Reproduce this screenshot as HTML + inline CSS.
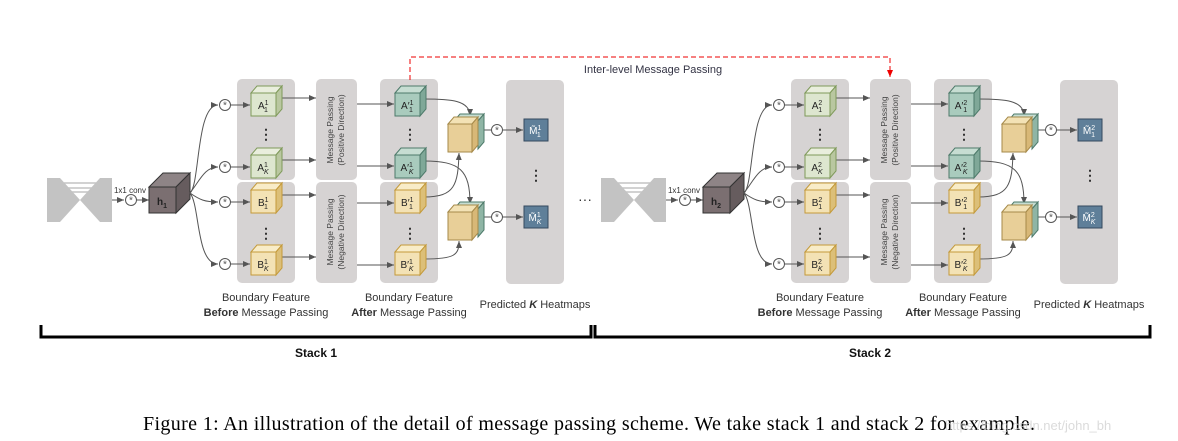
<!DOCTYPE html>
<html><head><meta charset="utf-8"><style>
html,body{margin:0;padding:0;background:#fff;width:1178px;height:441px;overflow:hidden}
svg text{font-family:"Liberation Sans",sans-serif}
</style></head><body>
<svg width="1178" height="441" viewBox="0 0 1178 441" xmlns="http://www.w3.org/2000/svg">
<defs>
<marker id="ar" markerWidth="8" markerHeight="8" refX="7" refY="4" orient="auto" markerUnits="userSpaceOnUse"><path d="M0,1 L7,4 L0,7 z" fill="#555"/></marker>
<marker id="arr" markerWidth="8" markerHeight="8" refX="7" refY="4" orient="auto" markerUnits="userSpaceOnUse"><path d="M0,1 L7,4 L0,7 z" fill="#e00"/></marker>
<g id="cA"><polygon points="0,0 6,-7 31,-7 25,0" fill="#e9eedd" stroke="#7f9a5a" stroke-width="1"/><polygon points="25,0 31,-7 31,16 25,23" fill="#b9c7a0" stroke="#7f9a5a"/><rect x="0" y="0" width="25" height="23" fill="#dde6cf" stroke="#7f9a5a"/></g>
<g id="cB"><polygon points="0,0 6,-7 31,-7 25,0" fill="#f8ecc8" stroke="#c49a3a"/><polygon points="25,0 31,-7 31,16 25,23" fill="#dcbf78" stroke="#c49a3a"/><rect x="0" y="0" width="25" height="23" fill="#f3e2b5" stroke="#c49a3a"/></g>
<g id="cP"><polygon points="0,0 6,-7 31,-7 25,0" fill="#c6ddd2" stroke="#4d7a6a"/><polygon points="25,0 31,-7 31,16 25,23" fill="#7fa898" stroke="#4d7a6a"/><rect x="0" y="0" width="25" height="23" fill="#a9cbbd" stroke="#4d7a6a"/></g>
<g id="cM"><polygon points="6,-3 12,-10 36,-10 30,-3" fill="#c6ddd2" stroke="#4d7a6a"/><polygon points="30,-3 36,-10 36,18 30,25" fill="#8fb5a5" stroke="#4d7a6a"/><polygon points="0,0 6,-7 30,-7 24,0" fill="#f3e2b5" stroke="#a68a4a"/><polygon points="24,0 30,-7 30,21 24,28" fill="#d8b877" stroke="#a68a4a"/><rect x="0" y="0" width="24" height="28" fill="#e8cf98" stroke="#a68a4a"/></g>
<g id="ci"><circle r="5.5" fill="#fff" stroke="#555" stroke-width="1"/><text x="0" y="3.5" font-size="10" text-anchor="middle" fill="#555">*</text></g>
<g id="stack">
  <rect x="47" y="178" width="65" height="44" fill="#c3c3c3"/>
  <polygon points="60,178 100,178 80,200" fill="#fff"/>
  <line x1="64" y1="183" x2="96" y2="183" stroke="#c3c3c3" stroke-width="1.5"/>
  <line x1="68" y1="188" x2="92" y2="188" stroke="#c3c3c3" stroke-width="1.5"/>
  <line x1="72" y1="192" x2="88" y2="192" stroke="#c3c3c3" stroke-width="1.5"/>
  <polygon points="80,200 60,222 100,222" fill="#fff"/>
  <line x1="112" y1="200" x2="124" y2="200" stroke="#555" marker-end="url(#ar)"/>
  <use href="#ci" x="131" y="200"/>
  <line x1="137" y1="200" x2="149" y2="200" stroke="#555" marker-end="url(#ar)"/>
  <polygon points="149,187 163,173 190,173 176,187" fill="#8e8486" stroke="#333"/>
  <polygon points="176,187 190,173 190,199 176,213" fill="#665c5e" stroke="#333"/>
  <rect x="149" y="187" width="27" height="26" fill="#7b6f71" stroke="#333"/>
  <rect x="237" y="79" width="58" height="101" rx="5" fill="#d6d3d3"/>
  <rect x="237" y="182" width="58" height="101" rx="5" fill="#d6d3d3"/>
  <rect x="316" y="79" width="41" height="101" rx="5" fill="#d6d3d3"/>
  <rect x="316" y="182" width="41" height="101" rx="5" fill="#d6d3d3"/>
  <rect x="380" y="79" width="58" height="101" rx="5" fill="#d6d3d3"/>
  <rect x="380" y="182" width="58" height="101" rx="5" fill="#d6d3d3"/>
  <rect x="506" y="80" width="58" height="204" rx="5" fill="#d6d3d3"/>
  <g fill="none" stroke="#555" stroke-width="1">
    <path d="M190,193 C200,185 196,105 218,105" marker-end="url(#ar)"/>
    <path d="M190,193 C200,180 205,167 218,167" marker-end="url(#ar)"/>
    <path d="M190,193 C200,200 205,202 218,202" marker-end="url(#ar)"/>
    <path d="M190,193 C200,205 196,264 218,264" marker-end="url(#ar)"/>
    <line x1="231" y1="105" x2="250" y2="105" marker-end="url(#ar)"/>
    <line x1="231" y1="167" x2="250" y2="167" marker-end="url(#ar)"/>
    <line x1="231" y1="202" x2="250" y2="202" marker-end="url(#ar)"/>
    <line x1="231" y1="264" x2="250" y2="264" marker-end="url(#ar)"/>
    <line x1="281" y1="98" x2="316" y2="98" marker-end="url(#ar)"/>
    <line x1="281" y1="160" x2="316" y2="160" marker-end="url(#ar)"/>
    <line x1="281" y1="195" x2="316" y2="195" marker-end="url(#ar)"/>
    <line x1="281" y1="257" x2="316" y2="257" marker-end="url(#ar)"/>
    <line x1="357" y1="104" x2="394" y2="104" marker-end="url(#ar)"/>
    <line x1="357" y1="166" x2="394" y2="166" marker-end="url(#ar)"/>
    <line x1="357" y1="203" x2="394" y2="203" marker-end="url(#ar)"/>
    <line x1="357" y1="265" x2="394" y2="265" marker-end="url(#ar)"/>
    <path d="M424,99 C450,99 470,100 470,116" marker-end="url(#ar)"/>
    <path d="M424,161 C460,161 470,170 470,204" marker-end="url(#ar)"/>
    <path d="M424,197 C455,197 458,185 459,153" marker-end="url(#ar)"/>
    <path d="M424,259 C455,259 459,255 459,241" marker-end="url(#ar)"/>
    <line x1="484" y1="130" x2="491" y2="130"/>
    <line x1="484" y1="217" x2="491" y2="217"/>
    <line x1="503" y1="130" x2="523" y2="130" marker-end="url(#ar)"/>
    <line x1="503" y1="217" x2="523" y2="217" marker-end="url(#ar)"/>
  </g>
  <use href="#ci" x="225" y="105"/><use href="#ci" x="225" y="167"/>
  <use href="#ci" x="225" y="202"/><use href="#ci" x="225" y="264"/>
  <use href="#cA" x="251" y="93"/><use href="#cA" x="251" y="155"/>
  <use href="#cB" x="251" y="190"/><use href="#cB" x="251" y="252"/>
  <use href="#cP" x="395" y="93"/><use href="#cP" x="395" y="155"/>
  <use href="#cB" x="395" y="190"/><use href="#cB" x="395" y="252"/>
  <use href="#cM" x="448" y="124"/><use href="#cM" x="448" y="212"/>
  <use href="#ci" x="497" y="130"/><use href="#ci" x="497" y="217"/>
  <rect x="524" y="119" width="24" height="22" fill="#5f7f99" stroke="#34495e"/>
  <rect x="524" y="206" width="24" height="22" fill="#5f7f99" stroke="#34495e"/>
  <g font-size="14" fill="#333" text-anchor="middle" font-weight="bold">
    <text x="266" y="139">⋮</text><text x="266" y="238">⋮</text>
    <text x="410" y="139">⋮</text><text x="410" y="238">⋮</text>
    <text x="536" y="180">⋮</text>
  </g>
  <g font-size="8.5" fill="#444" text-anchor="middle">
    <text transform="translate(333,130) rotate(-90)">Message Passing</text>
    <text transform="translate(344,130) rotate(-90)">(Positive Direction)</text>
    <text transform="translate(333,232) rotate(-90)">Message Passing</text>
    <text transform="translate(344,232) rotate(-90)">(Negative Direction)</text>
  </g>
  <text x="130" y="193" font-size="8" fill="#333" text-anchor="middle">1x1 conv</text>
  <g font-size="11" fill="#333" text-anchor="middle">
    <text x="266" y="301">Boundary Feature</text>
    <text x="266" y="316"><tspan font-weight="bold">Before</tspan> Message Passing</text>
    <text x="409" y="301">Boundary Feature</text>
    <text x="409" y="316"><tspan font-weight="bold">After</tspan> Message Passing</text>
    <text x="535" y="308">Predicted <tspan font-weight="bold" font-style="italic">K</tspan> Heatmaps</text>
  </g>
</g>
</defs>

<use href="#stack"/>
<use href="#stack" x="554"/>

<g font-size="10" fill="#222" text-anchor="middle">
  <text x="263" y="109">A<tspan font-size="7" dy="-4">1</tspan><tspan font-size="7" dx="-4" dy="7">1</tspan></text>
  <text x="263" y="171">A<tspan font-size="7" dy="-4">1</tspan><tspan font-size="7" dx="-4" dy="7" font-style="italic">K</tspan></text>
  <text x="263" y="206">B<tspan font-size="7" dy="-4">1</tspan><tspan font-size="7" dx="-4" dy="7">1</tspan></text>
  <text x="263" y="268">B<tspan font-size="7" dy="-4">1</tspan><tspan font-size="7" dx="-4" dy="7" font-style="italic">K</tspan></text>
  <text x="407" y="109">A′<tspan font-size="7" dy="-4">1</tspan><tspan font-size="7" dx="-4" dy="7">1</tspan></text>
  <text x="407" y="171">A′<tspan font-size="7" dy="-4">1</tspan><tspan font-size="7" dx="-4" dy="7" font-style="italic">K</tspan></text>
  <text x="407" y="206">B′<tspan font-size="7" dy="-4">1</tspan><tspan font-size="7" dx="-4" dy="7">1</tspan></text>
  <text x="407" y="268">B′<tspan font-size="7" dy="-4">1</tspan><tspan font-size="7" dx="-4" dy="7" font-style="italic">K</tspan></text>
  <text x="535" y="134" fill="#fff">M̃<tspan font-size="7" dy="-4">1</tspan><tspan font-size="7" dx="-4" dy="7">1</tspan></text>
  <text x="535" y="221" fill="#fff">M̃<tspan font-size="7" dy="-4">1</tspan><tspan font-size="7" dx="-4" dy="7" font-style="italic">K</tspan></text>
  <text x="162" y="205" font-weight="bold" font-size="10">h<tspan font-size="7" dy="3">1</tspan></text>
</g>
<g font-size="10" fill="#222" text-anchor="middle">
  <text x="817" y="109">A<tspan font-size="7" dy="-4">2</tspan><tspan font-size="7" dx="-4" dy="7">1</tspan></text>
  <text x="817" y="171">A<tspan font-size="7" dy="-4">2</tspan><tspan font-size="7" dx="-4" dy="7" font-style="italic">K</tspan></text>
  <text x="817" y="206">B<tspan font-size="7" dy="-4">2</tspan><tspan font-size="7" dx="-4" dy="7">1</tspan></text>
  <text x="817" y="268">B<tspan font-size="7" dy="-4">2</tspan><tspan font-size="7" dx="-4" dy="7" font-style="italic">K</tspan></text>
  <text x="961" y="109">A′<tspan font-size="7" dy="-4">2</tspan><tspan font-size="7" dx="-4" dy="7">1</tspan></text>
  <text x="961" y="171">A′<tspan font-size="7" dy="-4">2</tspan><tspan font-size="7" dx="-4" dy="7" font-style="italic">K</tspan></text>
  <text x="961" y="206">B′<tspan font-size="7" dy="-4">2</tspan><tspan font-size="7" dx="-4" dy="7">1</tspan></text>
  <text x="961" y="268">B′<tspan font-size="7" dy="-4">2</tspan><tspan font-size="7" dx="-4" dy="7" font-style="italic">K</tspan></text>
  <text x="1089" y="134" fill="#fff">M̃<tspan font-size="7" dy="-4">2</tspan><tspan font-size="7" dx="-4" dy="7">1</tspan></text>
  <text x="1089" y="221" fill="#fff">M̃<tspan font-size="7" dy="-4">2</tspan><tspan font-size="7" dx="-4" dy="7" font-style="italic">K</tspan></text>
  <text x="716" y="205" font-weight="bold" font-size="10">h<tspan font-size="7" dy="3">2</tspan></text>
</g>

<text x="585" y="204" font-size="14" fill="#333" text-anchor="middle">···</text>

<path d="M410,80 L410,57 L890,57 L890,77" fill="none" stroke="#e00" stroke-width="1" stroke-dasharray="5,3" marker-end="url(#arr)"/>
<text x="653" y="73" font-size="11" fill="#334" text-anchor="middle">Inter-level Message Passing</text>

<g stroke="#000" stroke-width="3" fill="none">
  <path d="M41,325 L41,337 L591,337 L591,325"/>
  <path d="M595,325 L595,337 L1150,337 L1150,325"/>
</g>
<text x="316" y="357" font-size="12" font-weight="bold" text-anchor="middle" fill="#111">Stack 1</text>
<text x="870" y="357" font-size="12" font-weight="bold" text-anchor="middle" fill="#111">Stack 2</text>

<text x="143" y="430" style="font-family:'Liberation Serif',serif;font-size:20px" fill="#000" textLength="892" lengthAdjust="spacing">Figure 1:  An illustration of the detail of message passing scheme. We take stack 1 and stack 2 for example.</text>
<text x="945" y="430" font-size="13" fill="#ccc" opacity="0.7">https://blog.csdn.net/john_bh</text>
</svg>
</body></html>
